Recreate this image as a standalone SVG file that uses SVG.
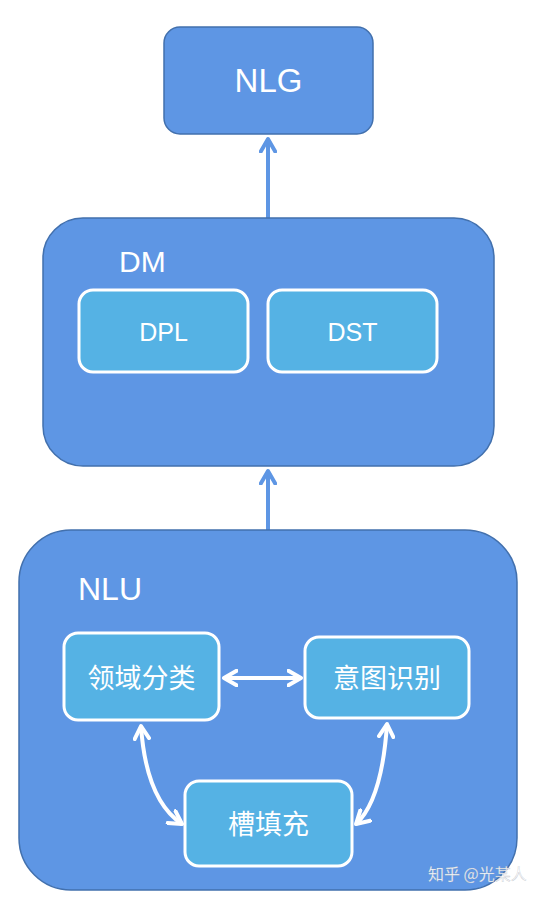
<svg xmlns="http://www.w3.org/2000/svg" width="544" height="898" viewBox="0 0 544 898">
<style>
.outer{fill:#5e96e4;stroke:#4270ad;stroke-width:1.5}
.inner{fill:#55b2e4;stroke:#ffffff;stroke-width:3}
.t{font-family:"Liberation Sans",Arial,sans-serif;fill:#ffffff}
.c{font-family:"Noto Sans CJK SC","Liberation Sans",sans-serif;fill:#ffffff}
.blue{fill:none;stroke:#5e96e4;stroke-width:4}
.white{fill:none;stroke:#ffffff;stroke-width:4}
</style>
<defs>
<marker id="ab" viewBox="0 0 10 10" refX="8" refY="5" markerWidth="4.5" markerHeight="4.5" orient="auto-start-reverse" markerUnits="strokeWidth">
<path d="M1,1 L8,5 L1,9" fill="none" stroke="#5e96e4" stroke-width="2.2" stroke-linecap="round" stroke-linejoin="round"/>
</marker>
<marker id="aw" viewBox="0 0 10 10" refX="8" refY="5" markerWidth="4.5" markerHeight="4.5" orient="auto-start-reverse" markerUnits="strokeWidth">
<path d="M1,1 L8,5 L1,9" fill="none" stroke="#ffffff" stroke-width="2.2" stroke-linecap="round" stroke-linejoin="round"/>
</marker>
</defs>
<rect width="544" height="898" fill="#ffffff"/>
<g id="connectors-outer">
<line class="blue" x1="268" y1="218" x2="268" y2="139" marker-end="url(#ab)"/>
<line class="blue" x1="268" y1="530" x2="268" y2="471" marker-end="url(#ab)"/>
</g>
<g id="nlg">
<rect class="outer" x="164" y="27" width="209" height="107" rx="16"/>
<text class="t" x="268.5" y="92" font-size="33" text-anchor="middle">NLG</text>
</g>
<g id="dm">
<rect class="outer" x="43" y="218" width="451" height="248" rx="40"/>
<text class="t" x="119" y="272" font-size="30">DM</text>
</g>
<g id="dpl">
<rect class="inner" x="79" y="290" width="169" height="82" rx="14"/>
<text class="t" x="163.5" y="341" font-size="25" text-anchor="middle">DPL</text>
</g>
<g id="dst">
<rect class="inner" x="268" y="290" width="169" height="82" rx="14"/>
<text class="t" x="352.5" y="341" font-size="25" text-anchor="middle">DST</text>
</g>
<g id="nlu">
<rect class="outer" x="19" y="530" width="498" height="360" rx="52"/>
<text class="t" x="78" y="600" font-size="32">NLU</text>
</g>
<g id="domain">
<rect class="inner" x="64" y="633" width="155" height="87" rx="14"/>
<text class="c" x="141.5" y="688" font-size="27" text-anchor="middle">领域分类</text>
</g>
<g id="intent">
<rect class="inner" x="305" y="637" width="164" height="81" rx="14"/>
<text class="c" x="387" y="688" font-size="27" text-anchor="middle">意图识别</text>
</g>
<g id="slot">
<rect class="inner" x="185" y="781" width="167" height="85" rx="14"/>
<text class="c" x="268.5" y="834" font-size="27" text-anchor="middle">槽填充</text>
</g>
<g id="connectors-inner">
<line class="white" x1="224" y1="678" x2="301" y2="678" marker-start="url(#aw)" marker-end="url(#aw)"/>
<path class="white" d="M141,726 Q146,800 182,824" marker-start="url(#aw)" marker-end="url(#aw)"/>
<path class="white" d="M387,724 Q382,800 356,824" marker-start="url(#aw)" marker-end="url(#aw)"/>
</g>
<text class="c" x="428" y="880" font-size="16" fill-opacity="0.92" stroke="#9aa4b0" stroke-width="0.4" stroke-opacity="0.6">知乎 @光某人</text>
</svg>
